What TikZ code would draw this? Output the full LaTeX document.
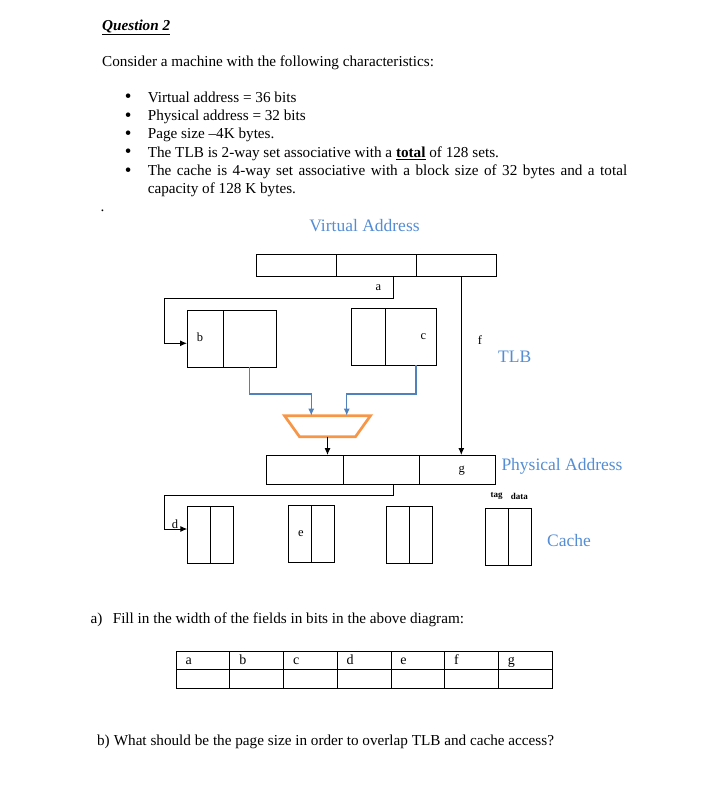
\documentclass[tikz,border=0pt]{standalone}
\usepackage{fontspec}
\setmainfont{Liberation Serif}
\usetikzlibrary{positioning,arrows.meta,shapes.geometric,calc}
\definecolor{capblue}{HTML}{548DD4}
\definecolor{lineblue}{HTML}{4F81BD}
\definecolor{muxorange}{HTML}{F79646}

\begin{document}
\begin{tikzpicture}[x=1pt,y=-1pt,line width=1pt,>={Latex[length=7pt,width=6pt]},
  txt/.style={anchor=base west,inner sep=0pt,font=\fontsize{15.2}{18}\selectfont},
  blt/.style={anchor=base,inner sep=0pt,font=\fontsize{19}{18}\selectfont},
  bluetxt/.style={anchor=base west,inner sep=0pt,text=capblue,font=\fontsize{17.5}{20}\selectfont},
  fld/.style={inner sep=0pt,font=\fontsize{12.5}{14}\selectfont},
  cell/.style={draw,inner sep=0pt,outer sep=0pt},
  bline/.style={->,draw=lineblue,line width=1.3pt,>={Latex[length=7pt,width=6pt]}},
  tcell/.style={draw,outer sep=0pt,inner ysep=0pt,inner xsep=9.35pt,text width=35pt,align=left,
    minimum width=53.7pt,minimum height=18.5pt,text height=11pt,text depth=3pt,font=\fontsize{14}{16}\selectfont}]
\useasboundingbox (0,0) rectangle (705,786);

% question text
\node[txt,font=\fontsize{15.2}{18}\selectfont\bfseries\itshape] (qst) at (101.7,30.7) {\underline{Question 2}};
\node[txt] (intro) at (101.7,66.7) {Consider a machine with the following characteristics:};
\node[blt] (d1) at (128.3,103) {•};
\node[blt] (d2) at (128.3,121.4) {•};
\node[blt] (d3) at (128.3,139.7) {•};
\node[blt] (d4) at (128.3,158) {•};
\node[blt] (d5) at (128.3,176.4) {•};
\node[txt] (p1) at (147.3,102.3) {Virtual address = 36 bits};
\node[txt] (p2) at (147.3,120.7) {Physical address = 32 bits};
\node[txt] (p3) at (147.3,139) {Page size –4K bytes.};
\node[txt] (p4) at (147.3,157.3) {The TLB is 2-way set associative with a \textbf{\underline{total}} of 128 sets.};
\node[txt] (p5) at (147.3,175.7) {\makebox[479.4pt][s]{The cache is 4-way set associative with a block size of 32 bytes and a total}};
\node[txt] (p5b) at (147.3,194) {capacity of 128 K bytes.};
\node[txt] (dot) at (100,212) {.};

% virtual address
\node[bluetxt,anchor=base] (vatxt) at (364.5,231.7) {Virtual Address};
\node[cell,minimum width=80pt,minimum height=22pt] (va1) at (296,265) {};
\node[cell,minimum width=80pt,minimum height=22pt,right=0pt of va1] (va2) {};
\node[cell,minimum width=80pt,minimum height=22pt,right=0pt of va2] (va3) {};

% TLB
\node[cell,minimum width=36pt,minimum height=57pt] (tb1) at (205,338.5) {};
\node[cell,minimum width=53pt,minimum height=57pt,right=0pt of tb1] (tb2) {};
\node[cell,minimum width=34pt,minimum height=57pt] (tc1) at (368,336.5) {};
\node[cell,minimum width=51pt,minimum height=57pt,right=0pt of tc1] (tc2) {};
\node[bluetxt] (tlbtxt) at (497.7,362.7) {TLB};

\node[trapezium,draw=muxorange,line width=2.7pt,shape border rotate=180,trapezium angle=75,
  trapezium stretches=true,minimum width=86pt,minimum height=21pt,inner sep=1pt,outer sep=0pt] (mux) at (327.5,426.2) {};

% physical address
\node[cell,minimum width=77pt,minimum height=29pt] (pa1) at (304.5,469.5) {};
\node[cell,minimum width=76pt,minimum height=29pt,right=0pt of pa1] (pa2) {};
\node[cell,minimum width=76pt,minimum height=29pt,right=0pt of pa2] (pa3) {};
\node[bluetxt] (patxt) at (501,470.7) {Physical Address};

% cache
\node[cell,minimum width=23pt,minimum height=57pt] (c1t) at (198.8,534.5) {};
\node[cell,minimum width=23pt,minimum height=57pt,right=0pt of c1t] (c1d) {};
\node[cell,minimum width=23pt,minimum height=57pt] (c2t) at (300,533.5) {};
\node[cell,minimum width=23pt,minimum height=57pt,right=0pt of c2t] (c2d) {};
\node[cell,minimum width=23pt,minimum height=57pt] (c3t) at (397.8,534.5) {};
\node[cell,minimum width=23pt,minimum height=57pt,right=0pt of c3t] (c3d) {};
\node[cell,minimum width=23pt,minimum height=57pt] (c4t) at (496.8,536.5) {};
\node[cell,minimum width=23pt,minimum height=57pt,right=0pt of c4t] (c4d) {};
\node[fld,font=\fontsize{9}{10}\selectfont\bfseries] (tagtxt) at (496.7,496) {tag};
\node[fld,font=\fontsize{9}{10}\selectfont\bfseries] (datatxt) at (519.3,496) {data};
\node[bluetxt] (cachetxt) at (546.7,546.7) {Cache};

% field labels
\node[fld] (la) at (378.3,287.7) {a};
\node[fld] (lb) at (200,337.7) {b};
\node[fld] (lc) at (423.3,336.7) {c};
\node[fld] (lf) at (480,340) {f};
\node[fld] (lg) at (461.7,471) {g};
\node[fld] (ld) at (175,524) {d};
\node[fld] (le) at (301,533.3) {e};

% connectors
\draw[->] ([xshift=17.3pt]va2.south) |- (164.3,298.3) |- ([yshift=-4.8pt]tb1.west);
\draw[->] ([xshift=5.3pt]va3.south) -- ([xshift=5.3pt]va3.south |- pa3.north);
\draw[bline] (tb2.south) -- ++(0,27) -| ([xshift=-16.2pt]mux.north);
\draw[bline] ([xshift=5.5pt]tc2.south) -- ++(0,29) -| ([xshift=19.2pt]mux.north);
\draw[->] (mux.south) -- (mux.south |- pa1.north);
\draw[->] ([xshift=12.3pt]pa2.south) |- (164.3,495.7) |- ([yshift=5.5pt]c1t.west);

% part a
\node[txt] (qa) at (90,623.3) {a)};
\node[txt] (qatxt) at (112.3,623.3) {Fill in the width of the fields in bits in the above diagram:};
\matrix (tbl) [ampersand replacement=\&,column sep=-1pt,row sep=-1pt,nodes={tcell}] at (364.2,669.8) {
  \node (ta) {a}; \& \node (tb) {b}; \& \node (tc) {c}; \& \node (td) {d}; \& \node (te) {e}; \& \node (tf) {f}; \& \node (tg) {g}; \\
  \node (wa) {}; \& \node (wb) {}; \& \node (wc) {}; \& \node (wd) {}; \& \node (we) {}; \& \node (wf) {}; \& \node (wg) {}; \\
};

% part b
\node[txt] (qb) at (96.5,745) {b)};
\node[txt] (qbtxt) at (113.3,745) {What should be the page size in order to overlap TLB and cache access?};
\end{tikzpicture}
\end{document}
